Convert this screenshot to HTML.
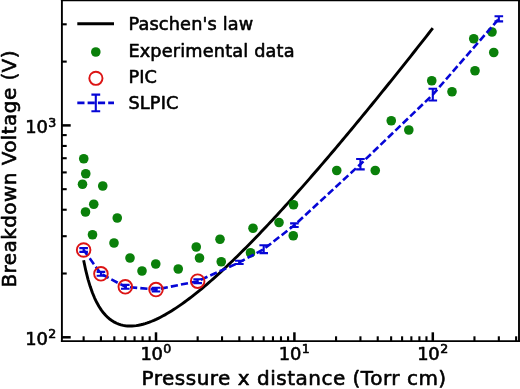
<!DOCTYPE html>
<html><head><meta charset="utf-8"><title>Breakdown voltage</title>
<style>html,body{margin:0;padding:0;background:#fff;overflow:hidden}svg{display:block}</style>
</head><body>
<svg width="520" height="389" viewBox="0 0 520 389" style="display:block">
<rect x="0" y="0" width="520" height="389" fill="#fff"/>
<g stroke="#000" fill="none" stroke-linecap="butt">
<line x1="83.63" y1="341.10" x2="83.63" y2="336.30" stroke-width="2.1"/>
<line x1="100.93" y1="341.10" x2="100.93" y2="336.30" stroke-width="2.1"/>
<line x1="114.34" y1="341.10" x2="114.34" y2="336.30" stroke-width="2.1"/>
<line x1="125.30" y1="341.10" x2="125.30" y2="336.30" stroke-width="2.1"/>
<line x1="134.56" y1="341.10" x2="134.56" y2="336.30" stroke-width="2.1"/>
<line x1="142.59" y1="341.10" x2="142.59" y2="336.30" stroke-width="2.1"/>
<line x1="149.67" y1="341.10" x2="149.67" y2="336.30" stroke-width="2.1"/>
<line x1="156.00" y1="341.10" x2="156.00" y2="332.30" stroke-width="2.5"/>
<line x1="197.66" y1="341.10" x2="197.66" y2="336.30" stroke-width="2.1"/>
<line x1="222.03" y1="341.10" x2="222.03" y2="336.30" stroke-width="2.1"/>
<line x1="239.33" y1="341.10" x2="239.33" y2="336.30" stroke-width="2.1"/>
<line x1="252.74" y1="341.10" x2="252.74" y2="336.30" stroke-width="2.1"/>
<line x1="263.70" y1="341.10" x2="263.70" y2="336.30" stroke-width="2.1"/>
<line x1="272.96" y1="341.10" x2="272.96" y2="336.30" stroke-width="2.1"/>
<line x1="280.99" y1="341.10" x2="280.99" y2="336.30" stroke-width="2.1"/>
<line x1="288.07" y1="341.10" x2="288.07" y2="336.30" stroke-width="2.1"/>
<line x1="294.40" y1="341.10" x2="294.40" y2="332.30" stroke-width="2.5"/>
<line x1="336.06" y1="341.10" x2="336.06" y2="336.30" stroke-width="2.1"/>
<line x1="360.43" y1="341.10" x2="360.43" y2="336.30" stroke-width="2.1"/>
<line x1="377.73" y1="341.10" x2="377.73" y2="336.30" stroke-width="2.1"/>
<line x1="391.14" y1="341.10" x2="391.14" y2="336.30" stroke-width="2.1"/>
<line x1="402.10" y1="341.10" x2="402.10" y2="336.30" stroke-width="2.1"/>
<line x1="411.36" y1="341.10" x2="411.36" y2="336.30" stroke-width="2.1"/>
<line x1="419.39" y1="341.10" x2="419.39" y2="336.30" stroke-width="2.1"/>
<line x1="426.47" y1="341.10" x2="426.47" y2="336.30" stroke-width="2.1"/>
<line x1="432.80" y1="341.10" x2="432.80" y2="332.30" stroke-width="2.5"/>
<line x1="474.46" y1="341.10" x2="474.46" y2="336.30" stroke-width="2.1"/>
<line x1="498.83" y1="341.10" x2="498.83" y2="336.30" stroke-width="2.1"/>
<line x1="516.13" y1="341.10" x2="516.13" y2="336.30" stroke-width="2.1"/>
<line x1="61.90" y1="337.30" x2="70.70" y2="337.30" stroke-width="2.5"/>
<line x1="61.90" y1="273.51" x2="66.70" y2="273.51" stroke-width="2.1"/>
<line x1="61.90" y1="236.20" x2="66.70" y2="236.20" stroke-width="2.1"/>
<line x1="61.90" y1="209.72" x2="66.70" y2="209.72" stroke-width="2.1"/>
<line x1="61.90" y1="189.19" x2="66.70" y2="189.19" stroke-width="2.1"/>
<line x1="61.90" y1="172.41" x2="66.70" y2="172.41" stroke-width="2.1"/>
<line x1="61.90" y1="158.22" x2="66.70" y2="158.22" stroke-width="2.1"/>
<line x1="61.90" y1="145.94" x2="66.70" y2="145.94" stroke-width="2.1"/>
<line x1="61.90" y1="135.10" x2="66.70" y2="135.10" stroke-width="2.1"/>
<line x1="61.90" y1="125.40" x2="70.70" y2="125.40" stroke-width="2.5"/>
<line x1="61.90" y1="61.61" x2="66.70" y2="61.61" stroke-width="2.1"/>
<line x1="61.90" y1="24.30" x2="66.70" y2="24.30" stroke-width="2.1"/>
</g>
<path d="M83.63,260.22 L85.83,270.68 L88.03,279.34 L90.22,286.60 L92.42,292.77 L94.61,298.04 L96.81,302.57 L99.01,306.47 L101.20,309.85 L103.40,312.76 L105.59,315.27 L107.79,317.43 L109.99,319.28 L112.18,320.85 L114.38,322.17 L116.57,323.26 L118.77,324.14 L120.97,324.84 L123.16,325.37 L125.36,325.74 L127.55,325.96 L129.75,326.05 L131.95,326.01 L134.14,325.86 L136.34,325.60 L138.53,325.24 L140.73,324.78 L142.93,324.24 L145.12,323.61 L147.32,322.90 L149.51,322.12 L151.71,321.27 L153.91,320.35 L156.10,319.37 L158.30,318.32 L160.49,317.22 L162.69,316.07 L164.89,314.87 L167.08,313.61 L169.28,312.31 L171.47,310.96 L173.67,309.57 L175.87,308.14 L178.06,306.67 L180.26,305.16 L182.45,303.61 L184.65,302.03 L186.85,300.42 L189.04,298.77 L191.24,297.09 L193.43,295.38 L195.63,293.64 L197.83,291.88 L200.02,290.08 L202.22,288.26 L204.41,286.42 L206.61,284.55 L208.81,282.65 L211.00,280.74 L213.20,278.80 L215.39,276.84 L217.59,274.86 L219.79,272.85 L221.98,270.83 L224.18,268.79 L226.37,266.73 L228.57,264.65 L230.77,262.56 L232.96,260.44 L235.16,258.31 L237.35,256.17 L239.55,254.01 L241.75,251.83 L243.94,249.64 L246.14,247.43 L248.33,245.21 L250.53,242.97 L252.73,240.72 L254.92,238.46 L257.12,236.19 L259.31,233.90 L261.51,231.60 L263.71,229.28 L265.90,226.96 L268.10,224.62 L270.29,222.28 L272.49,219.92 L274.69,217.55 L276.88,215.17 L279.08,212.78 L281.27,210.38 L283.47,207.97 L285.67,205.55 L287.86,203.12 L290.06,200.68 L292.26,198.23 L294.45,195.78 L296.65,193.31 L298.84,190.83 L301.04,188.35 L303.24,185.86 L305.43,183.36 L307.63,180.85 L309.82,178.34 L312.02,175.81 L314.22,173.28 L316.41,170.75 L318.61,168.20 L320.80,165.65 L323.00,163.09 L325.20,160.52 L327.39,157.95 L329.59,155.37 L331.78,152.78 L333.98,150.19 L336.18,147.59 L338.37,144.98 L340.57,142.37 L342.76,139.75 L344.96,137.13 L347.16,134.50 L349.35,131.86 L351.55,129.22 L353.74,126.57 L355.94,123.92 L358.14,121.26 L360.33,118.60 L362.53,115.93 L364.72,113.26 L366.92,110.58 L369.12,107.90 L371.31,105.21 L373.51,102.51 L375.70,99.81 L377.90,97.11 L380.10,94.40 L382.29,91.69 L384.49,88.97 L386.68,86.25 L388.88,83.52 L391.08,80.79 L393.27,78.06 L395.47,75.32 L397.66,72.58 L399.86,69.83 L402.06,67.08 L404.25,64.32 L406.45,61.56 L408.64,58.80 L410.84,56.03 L413.04,53.26 L415.23,50.49 L417.43,47.71 L419.62,44.93 L421.82,42.14 L424.02,39.35 L426.21,36.56 L428.41,33.76 L430.60,30.96 L432.80,28.16" fill="none" stroke="#000" stroke-width="2.9" stroke-linejoin="round"/>
<g fill="#0a800a">
<circle cx="83.75" cy="158.75" r="4.8"/>
<circle cx="85.75" cy="173.75" r="4.8"/>
<circle cx="82.5" cy="184.25" r="4.8"/>
<circle cx="102.75" cy="186" r="4.8"/>
<circle cx="93.75" cy="204.25" r="4.8"/>
<circle cx="85.5" cy="212" r="4.8"/>
<circle cx="117.25" cy="218" r="4.8"/>
<circle cx="92.5" cy="234.75" r="4.8"/>
<circle cx="114" cy="243" r="4.8"/>
<circle cx="130" cy="258" r="4.8"/>
<circle cx="142" cy="271" r="4.8"/>
<circle cx="155.75" cy="264" r="4.8"/>
<circle cx="178.25" cy="269" r="4.8"/>
<circle cx="196.25" cy="247" r="4.8"/>
<circle cx="199.5" cy="258" r="4.8"/>
<circle cx="220" cy="239.25" r="4.8"/>
<circle cx="221.25" cy="261.75" r="4.8"/>
<circle cx="253" cy="228.25" r="4.8"/>
<circle cx="250.5" cy="252.75" r="4.8"/>
<circle cx="279" cy="222.5" r="4.8"/>
<circle cx="293.5" cy="204.75" r="4.8"/>
<circle cx="293.25" cy="235.75" r="4.8"/>
<circle cx="336.75" cy="170.5" r="4.8"/>
<circle cx="375.25" cy="170.5" r="4.8"/>
<circle cx="391.25" cy="120.75" r="4.8"/>
<circle cx="408.8" cy="130" r="4.8"/>
<circle cx="431.75" cy="80.75" r="4.8"/>
<circle cx="452" cy="91.75" r="4.8"/>
<circle cx="473.75" cy="38.75" r="4.8"/>
<circle cx="475" cy="70.75" r="4.8"/>
<circle cx="492" cy="32" r="4.8"/>
<circle cx="493.75" cy="52.5" r="4.8"/>
</g>
<path d="M83.63,250.00 L100.93,273.80 L125.30,286.80 L156.00,289.60 L197.66,281.20 L239.33,262.40 L263.70,249.20 L294.40,225.20 L360.43,164.20 L432.80,94.60 L498.83,18.80" fill="none" stroke="#0606d6" stroke-width="2.6" stroke-dasharray="7.2 3.1"/>
<g stroke="#0606d6" stroke-width="2.1" fill="none">
<path d="M83.63,248.10V251.90M79.33,248.10H87.93M79.33,251.90H87.93"/>
<path d="M100.93,271.90V275.70M96.63,271.90H105.23M96.63,275.70H105.23"/>
<path d="M125.30,284.90V288.70M121.00,284.90H129.60M121.00,288.70H129.60"/>
<path d="M156.00,287.70V291.50M151.70,287.70H160.30M151.70,291.50H160.30"/>
<path d="M197.66,279.30V283.10M193.36,279.30H201.96M193.36,283.10H201.96"/>
<path d="M239.33,260.80V264.00M235.03,260.80H243.63M235.03,264.00H243.63"/>
<path d="M263.70,245.30V253.10M259.40,245.30H268.00M259.40,253.10H268.00"/>
<path d="M294.40,223.40V227.00M290.10,223.40H298.70M290.10,227.00H298.70"/>
<path d="M360.43,159.00V169.40M356.13,159.00H364.73M356.13,169.40H364.73"/>
<path d="M432.80,88.70V100.50M428.50,88.70H437.10M428.50,100.50H437.10"/>
<path d="M498.83,16.20V21.40M494.53,16.20H503.13M494.53,21.40H503.13"/>
</g>
<g stroke="#dc1414" stroke-width="1.9" fill="none">
<circle cx="83.63" cy="250.00" r="6.8"/>
<circle cx="100.93" cy="273.80" r="6.8"/>
<circle cx="125.30" cy="286.80" r="6.8"/>
<circle cx="156.00" cy="289.60" r="6.8"/>
<circle cx="197.66" cy="281.20" r="6.8"/>
</g>
<g stroke="#000" stroke-width="1.9" fill="none">
<line x1="60.9" y1="0.3" x2="520" y2="0.3"/>
<line x1="60.9" y1="341.1" x2="520" y2="341.1"/>
<line x1="61.9" y1="0" x2="61.9" y2="342.1"/>
<line x1="519.0" y1="0" x2="519.0" y2="342.1"/>
</g>
<g font-family="'DejaVu Sans','Liberation Sans',sans-serif" fill="#000" stroke="#000" stroke-width="0.6" stroke-linejoin="round">
<text x="128.4" y="30.3" font-size="17.7" letter-spacing="0.17">Paschen's law</text>
<text x="128.4" y="56.5" font-size="17.7" letter-spacing="0.17">Experimental data</text>
<text x="128.4" y="82.7" font-size="17.7" letter-spacing="0.17">PIC</text>
<text x="128.4" y="108.9" font-size="17.7" letter-spacing="0.17">SLPIC</text>
<line x1="77.3" y1="23.7" x2="114" y2="23.7" stroke="#000" stroke-width="2.9"/>
<circle cx="95.8" cy="52" r="4.8" fill="#0a800a" stroke="none"/>
<circle cx="95.9" cy="78.3" r="6.6" fill="none" stroke="#dc1414" stroke-width="1.9"/>
<line x1="77.3" y1="102.9" x2="114" y2="102.9" stroke="#0606d6" stroke-width="2.6" stroke-dasharray="7.2 3.1"/>
<path d="M95.8,94.6V111.3M91.4,94.6H100.2M91.4,111.3H100.2" stroke="#0606d6" stroke-width="2.1" fill="none"/>
<text x="140.40" y="359.90" font-size="17.9" letter-spacing="-0.25">10<tspan font-size="12.6" dy="-6.9" dx="0.7" letter-spacing="0">0</tspan></text>
<text x="278.80" y="359.90" font-size="17.9" letter-spacing="-0.25">10<tspan font-size="12.6" dy="-6.9" dx="0.7" letter-spacing="0">1</tspan></text>
<text x="417.20" y="359.90" font-size="17.9" letter-spacing="-0.25">10<tspan font-size="12.6" dy="-6.9" dx="0.7" letter-spacing="0">2</tspan></text>
<text x="25.30" y="344.60" font-size="17.9" letter-spacing="-0.25">10<tspan font-size="12.6" dy="-6.2" dx="0.7" letter-spacing="0">2</tspan></text>
<text x="25.30" y="132.70" font-size="17.9" letter-spacing="-0.25">10<tspan font-size="12.6" dy="-6.2" dx="0.7" letter-spacing="0">3</tspan></text>
<text x="294.1" y="384.6" font-size="20.0" letter-spacing="0.5" text-anchor="middle">Pressure x distance (Torr cm)</text>
<text transform="translate(16.4,168.8) rotate(-90)" font-size="20.0" letter-spacing="0.42" text-anchor="middle">Breakdown Voltage (V)</text>
</g>
</svg>
</body></html>
